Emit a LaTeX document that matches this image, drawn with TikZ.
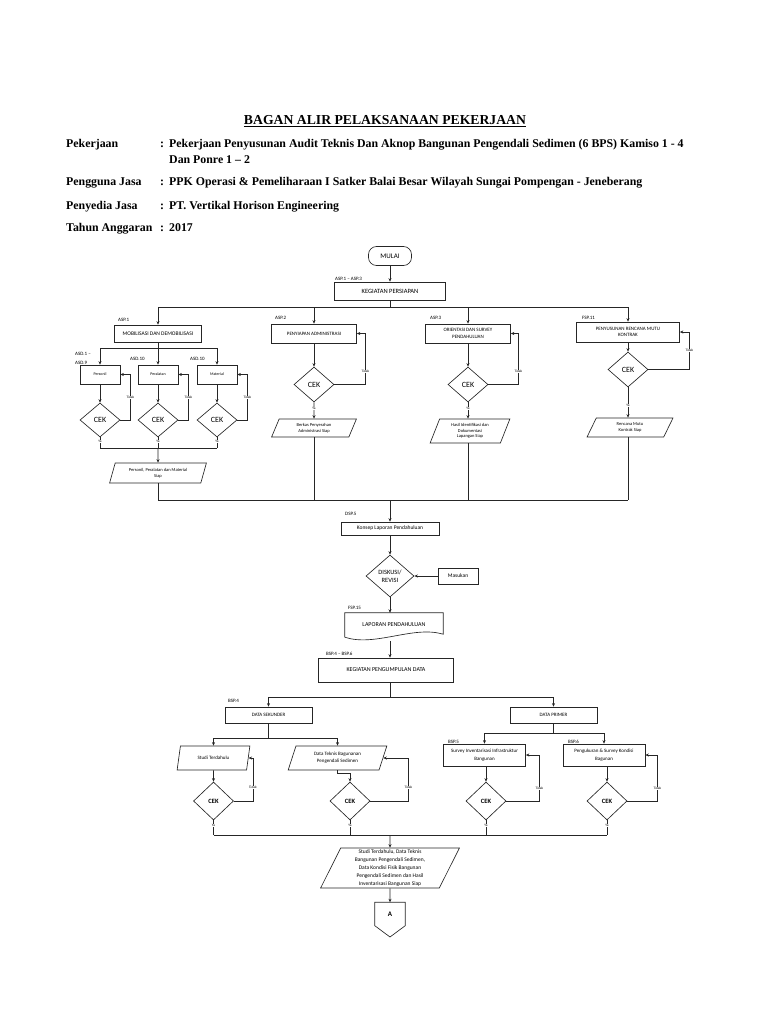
\documentclass[tikz,border=0pt]{standalone}
\usepackage{fontspec}
\setmainfont{Liberation Serif}
\newfontfamily\diagfont{Carlito}
\usetikzlibrary{shapes.geometric,arrows.meta}
\newcommand\fsz[2]{\fontsize{#1}{#2}\selectfont}
\begin{document}
\begin{tikzpicture}[x=1pt,y=-1pt,
  ln/.style={line width=0.65pt, draw=black!85},
  arr/.style={ln, -{Stealth[length=3.5pt,width=3pt]}},
  box/.style={ln, draw, rectangle, inner sep=0.5pt, align=center, font=\diagfont\fsz{5.5}{6.8}},
  para/.style={ln, draw, trapezium, trapezium left angle=70, trapezium right angle=110, trapezium stretches=true, inner sep=0.5pt, align=center, font=\diagfont\fsz{4.5}{5.8}},
  cek/.style={ln, draw, diamond, inner sep=0pt, minimum width=40pt, minimum height=35pt, font=\diagfont\fsz{8}{8}},
  cekb/.style={cek, minimum height=38pt, font=\diagfont\bfseries\fsz{6.5}{6.5}},
  tag/.style={font=\diagfont\fsz{5}{5}, anchor=base west, inner sep=0pt},
  small/.style={font=\diagfont\fsz{3.5}{3.5}, fill=white, inner sep=0.4pt},
  hdr/.style={anchor=base west, inner sep=0pt, font=\bfseries\fsz{11.85}{14}},
]
\useasboundingbox (0,0) rectangle (768,1024);
\fill[white] (0,0) rectangle (768,1024);

% ---------------- header ----------------
\node[anchor=base, inner sep=0pt, font=\bfseries\fsz{13.7}{15}] (title) at (385,125) {\underline{BAGAN ALIR PELAKSANAAN PEKERJAAN}};
\node[hdr] (k1) at (66,148) {Pekerjaan};
\node[hdr] (c1) at (160,148) {:};
\node[hdr] (v1) at (169,148) {Pekerjaan Penyusunan Audit Teknis Dan Aknop Bangunan Pengendali Sedimen (6 BPS) Kamiso 1 - 4};
\node[hdr] (v1b) at (169,164) {Dan Ponre 1 – 2};
\node[hdr] (k2) at (66,186) {Pengguna Jasa};
\node[hdr] (c2) at (160,186) {:};
\node[hdr] (v2) at (169,186) {PPK Operasi \& Pemeliharaan I Satker Balai Besar Wilayah Sungai Pompengan - Jeneberang};
\node[hdr] (k3) at (66,210) {Penyedia Jasa};
\node[hdr] (c3) at (160,210) {:};
\node[hdr] (v3) at (169,210) {PT. Vertikal Horison Engineering};
\node[hdr] (k4) at (66,232) {Tahun Anggaran};
\node[hdr] (c4) at (160,232) {:};
\node[hdr] (v4) at (169,232) {2017};

% ---------------- top ----------------
\node[box, rounded corners=8pt, minimum width=43pt, minimum height=19pt, font=\diagfont\fsz{7}{7}] (mulai) at (390,256) {MULAI};
\node[box, minimum width=111pt, minimum height=18pt, font=\diagfont\fsz{6.5}{7}] (persiapan) at (390,291) {KEGIATAN PERSIAPAN};
\node[tag] (t0) at (335,280) {ASP.1 – ASP.3};
\draw[arr] (mulai) -- (persiapan);

% ASP.1 block
\node[box, minimum width=87pt, minimum height=17pt] (asp1) at (158,333.5) {MOBILISASI DAN DEMOBILISASI};
\node[tag] (t1) at (118,321) {ASP.1};
\node[box, minimum width=40pt, minimum height=19pt, font=\diagfont\fsz{4}{4}] (pers) at (100,374.5) {Personil};
\node[box, minimum width=40pt, minimum height=19pt, font=\diagfont\fsz{4}{4}] (pera) at (158,374.5) {Peralatan};
\node[box, minimum width=40pt, minimum height=19pt, font=\diagfont\fsz{4}{4}] (mat) at (217,374.5) {Material};
\node[tag] (t1a) at (75,355) {ASD.1 –};
\node[tag] (t1b) at (75,364) {ASD.9};
\node[tag] (t1c) at (130,360) {ASD.10};
\node[tag] (t1d) at (190,360) {ASD.10};
\node[cek, minimum height=34pt] (cek1) at (100,420) {CEK};
\node[cek, minimum height=34pt] (cek2) at (158,420) {CEK};
\node[cek, minimum height=34pt] (cek3) at (217,420) {CEK};
\node[para, minimum width=97pt, minimum height=20pt] (para1) at (158,473) {Personil, Peralatan dan Material\\Siap};

% ASP.2
\node[box, minimum width=85pt, minimum height=19pt, font=\diagfont\fsz{5}{6}] (asp2) at (314,333.5) {PENYIAPAN ADMINISTRASI};
\node[tag] (t2) at (275,319) {ASP.2};
\node[cek] (cek4) at (314,384.5) {CEK};
\node[para, minimum width=85pt, minimum height=18pt] (para2) at (314,428) {Berkas Penyerahan\\Administrasi Siap};

% ASP.3
\node[box, minimum width=85pt, minimum height=19pt, font=\diagfont\fsz{5}{6.5}] (asp3) at (468,333.5) {ORIENTASI DAN SURVEY\\PENDAHULUAN};
\node[tag] (t3) at (430,319) {ASP.3};
\node[cek] (cek5) at (468,384.5) {CEK};
\node[para, minimum width=80pt, minimum height=24pt] (para3) at (470,431) {Hasil Identifikasi dan\\Dokumentasi\\Lapangan Siap};

% FSP.11
\node[box, minimum width=103pt, minimum height=20pt, font=\diagfont\fsz{5}{6.5}] (fsp) at (628,332) {PENYUSUNAN RENCANA MUTU\\KONTRAK};
\node[tag] (t4) at (582,319) {FSP.11};
\node[cek] (cek6) at (628,369.5) {CEK};
\node[para, minimum width=86pt, minimum height=19pt] (para4) at (630,427.5) {Rencana Mutu\\Kontrak Siap};

% bus from persiapan
\coordinate (b0) at (390,307);
\draw[ln] (persiapan.south) -- (b0);
\draw[ln] (asp1.north |- b0) -- (fsp.north |- b0);
\foreach \n in {asp1,asp2,asp3,fsp} \draw[arr] (\n.north |- b0) -- (\n.north);

% ASP.1 internal
\coordinate (b1) at (158,348);
\draw[ln] (asp1.south) -- (b1);
\draw[ln] (pers.north |- b1) -- (mat.north |- b1);
\foreach \n in {pers,pera,mat} \draw[arr] (\n.north |- b1) -- (\n.north);
\draw[arr] (pers.south) -- (cek1.north);
\draw[arr] (pera.south) -- (cek2.north);
\draw[arr] (mat.south) -- (cek3.north);
\draw[arr] (cek1.east) -- ++(10,0) |- node[small, pos=0.25]{Tidak} (pers.east);
\draw[arr] (cek2.east) -- ++(10,0) |- node[small, pos=0.25]{Tidak} (pera.east);
\draw[arr] (cek3.east) -- ++(10,0) |- node[small, pos=0.25]{Tidak} (mat.east);
\coordinate (b2) at (158,448);
\draw[ln] (cek1.south) -- node[small, pos=0.35]{Ya} (cek1.south |- b2);
\draw[ln] (cek2.south) -- node[small, pos=0.35]{Ya} (b2);
\draw[ln] (cek3.south) -- node[small, pos=0.35]{Ya} (cek3.south |- b2);
\draw[ln] (cek1.south |- b2) -- (cek3.south |- b2);
\draw[arr] (b2) -- (para1.north);

% ASP.2 internal
\draw[arr] (asp2.south) -- (cek4.north);
\draw[arr] (cek4.east) -- ++(31,0) |- node[small, pos=0.125]{Tidak} (asp2.east);
\draw[arr] (cek4.south) -- node[small, pos=0.4]{Ya} (para2.north);

% ASP.3 internal
\draw[arr] (asp3.south) -- (cek5.north);
\draw[arr] (cek5.east) -- ++(30,0) |- node[small, pos=0.125]{Tidak} (asp3.east);
\draw[arr] (cek5.south) -- node[small, pos=0.4]{Ya} (cek5.south |- para3.north);

% FSP.11 internal
\draw[arr] (fsp.south) -- (cek6.north);
\draw[arr] (cek6.east) -- ++(41,0) |- node[small, pos=0.25]{Tidak} (fsp.east);
\draw[arr] (cek6.south) -- node[small, pos=0.6]{Ya} (cek6.south |- para4.north);

% merge bus
\coordinate (b3) at (390,500);
\draw[ln] (para1.south) -- (para1.south |- b3);
\draw[ln] (para2.south) -- (para2.south |- b3);
\draw[ln] (cek5.south |- para3.south) -- (cek5.south |- b3);
\draw[ln] (cek6.south |- para4.south) -- (cek6.south |- b3);
\draw[ln] (para1.south |- b3) -- (cek6.south |- b3);

% ---------------- middle ----------------
\node[box, minimum width=98pt, minimum height=13pt, font=\diagfont\fsz{5.5}{6}] (dsp) at (390,528.5) {Konsep Laporan Pendahuluan};
\node[tag] (t5) at (345,515) {DSP.5};
\node[ln, draw, diamond, inner sep=0pt, minimum width=48pt, minimum height=42pt, align=center, font=\diagfont\fsz{6.5}{8}] (disk) at (390,576) {DISKUSI/\\REVISI};
\node[box, minimum width=40pt, minimum height=16pt, font=\diagfont\fsz{5.5}{6}] (mas) at (458,576) {Masukan};
\node[inner sep=0pt, minimum width=98pt, minimum height=24pt, font=\diagfont\fsz{6}{6}] (lap) at (394,625) {LAPORAN PENDAHULUAN};
\draw[ln] (lap.south west) -- (lap.north west) -- (lap.north east) -- ([yshift=3pt]lap.south east) .. controls +(-30,-9) and +(30,10) .. (lap.south west);
\node[tag] (t6) at (348,609) {FSP.15};
\node[box, minimum width=135pt, minimum height=24pt, font=\diagfont\fsz{6}{6}] (kpd) at (386,670) {KEGIATAN PENGUMPULAN DATA};
\node[tag] (t7) at (326,655) {BSP.4 – BSP.6};
\coordinate (lapbot) at (390,641);

\draw[arr] (b3) -- (dsp.north);
\draw[arr] (dsp.south) -- (disk.north);
\draw[arr] (mas.west) -- (disk.east);
\draw[arr] (disk.south) -- (disk.south |- lap.north);
\draw[arr] (lapbot) -- (lapbot |- kpd.north);

% ---------------- bottom ----------------
\node[box, minimum width=87pt, minimum height=16pt, font=\diagfont\fsz{5}{5}] (sek) at (268.5,715) {DATA SEKUNDER};
\node[tag] (t8) at (228,702) {BSP.4};
\node[box, minimum width=87pt, minimum height=16pt, font=\diagfont\fsz{5}{5}] (pri) at (553.5,715) {DATA PRIMER};

\coordinate (b4) at (390,697);
\draw[ln] (lapbot |- kpd.south) -- (b4);
\draw[ln] (sek.north |- b4) -- (pri.north |- b4);
\draw[arr] (sek.north |- b4) -- (sek.north);
\draw[arr] (pri.north |- b4) -- (pri.north);

\node[para, minimum width=73pt, minimum height=24pt, font=\diagfont\fsz{5}{7}] (studi) at (213.5,758) {Studi Terdahulu};
\node[para, minimum width=99pt, minimum height=24pt, font=\diagfont\fsz{5}{7}] (dtek) at (337.5,758) {Data Teknis Bagunanan\\Pengendali Sedimen};
\node[box, minimum width=82pt, minimum height=22pt, font=\diagfont\fsz{5}{7.5}] (surv) at (484.5,755) {Survey Inventarisasi Infrastruktur\\Bangunan};
\node[tag] (t9) at (448,743) {BSP.5};
\node[box, minimum width=82pt, minimum height=22pt, font=\diagfont\fsz{5}{7.5}] (peng) at (604,755) {Pengukuran \& Survey Kondisi\\Bagunan};
\node[tag] (t10) at (568,743) {BSP.6};

\coordinate (b5) at (268.5,738);
\draw[ln] (sek.south) -- (b5);
\draw[ln] (studi.north |- b5) -- (dtek.north |- b5);
\draw[arr] (studi.north |- b5) -- (studi.north);
\draw[arr] (dtek.north |- b5) -- (dtek.north);
\coordinate (b6) at (553.5,733);
\draw[ln] (pri.south) -- (b6);
\draw[ln] (surv.north |- b6) -- (peng.north |- b6);
\draw[arr] (surv.north |- b6) -- (surv.north);
\draw[arr] (peng.north |- b6) -- (peng.north);

\node[cekb] (cek7) at (213.5,801) {CEK};
\node[cekb] (cek8) at (350,801) {CEK};
\node[cekb] (cek9) at (486,801) {CEK};
\node[cekb] (cek10) at (607,801) {CEK};

\draw[arr] (studi.south) -- (cek7.north);
\draw[arr] (dtek.south) -- ++(0,3) -| (cek8.north);
\draw[arr] (cek9.north |- surv.south) -- (cek9.north);
\draw[arr] (cek10.north |- peng.south) -- (cek10.north);

\draw[arr] (cek7.east) -- ++(19,0) |- node[small, pos=0.16]{Tidak} (studi.east);
\draw[arr] (cek8.east) -- ++(38,0) |- node[small, pos=0.16]{Tidak} (dtek.east);
\draw[arr] (cek9.east) -- ++(33,0) |- node[small, pos=0.14]{Tidak} (surv.east);
\draw[arr] (cek10.east) -- ++(30,0) |- node[small, pos=0.14]{Tidak} (peng.east);

\coordinate (b7) at (390,835);
\foreach \n in {cek7,cek8,cek9,cek10} \draw[ln] (\n.south) -- node[small, pos=0.35]{Ya} (\n.south |- b7);
\draw[ln] (cek7.south |- b7) -- (cek10.south |- b7);

\node[para, trapezium left angle=69, trapezium right angle=111, minimum width=140pt, minimum height=40pt, font=\diagfont\fsz{5.5}{8}] (fin) at (390,868) {Studi Terdahulu, Data Teknis\\Bangunan Pengendali Sedimen,\\Data Kondisi Fisik Bangunan\\Pengendali Sedimen dan Hasil\\Inventarisasi Bangunan Siap};
\draw[arr] (b7) -- (fin.north);

\node[inner sep=0pt, minimum width=30pt, minimum height=23pt, font=\diagfont\bfseries\fsz{7}{7}] (conA) at (390,914) {A};
\coordinate (conAtip) at (390,937);
\draw[ln] (conA.north west) -- (conA.north east) -- (conA.south east) -- (conAtip) -- (conA.south west) -- cycle;
\draw[arr] (fin.south) -- (conA.north);
\end{tikzpicture}
\end{document}
